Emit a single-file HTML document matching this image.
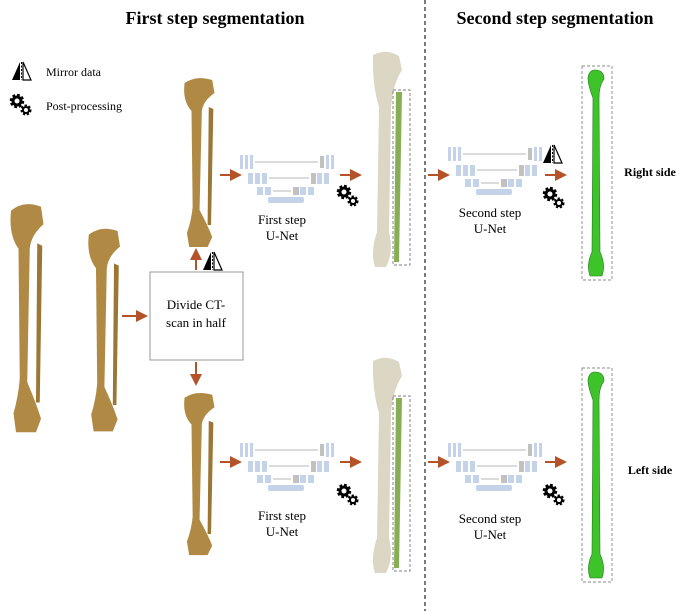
<!DOCTYPE html><html><head><style>body{margin:0;background:#fff}svg{display:block}</style></head><body>
<svg width="685" height="611" viewBox="0 0 685 611" xmlns="http://www.w3.org/2000/svg" font-family="Liberation Serif, serif">
<defs>
<marker id="ah" markerWidth="6" markerHeight="6" refX="5" refY="3" orient="auto"><path d="M0,0 L6,3 L0,6 z" fill="#b4532a"/></marker>
<g id="mir"><path d="M0,18 L8,0 L8,18 z" fill="#000"/><path d="M11,0 L19,18 L11,18 z" fill="none" stroke="#000" stroke-width="1.2"/><line x1="9.5" y1="0" x2="9.5" y2="18" stroke="#000" stroke-dasharray="2,1.5"/></g>
<g id="gear"><circle cx="7" cy="7" r="5.5" fill="none" stroke="#000" stroke-width="3.5" stroke-dasharray="2.5,1.8"/><circle cx="7" cy="7" r="4" fill="none" stroke="#000" stroke-width="3"/><circle cx="16" cy="16" r="4" fill="none" stroke="#000" stroke-width="3" stroke-dasharray="2,1.5"/><circle cx="16" cy="16" r="3" fill="none" stroke="#000" stroke-width="2"/></g>
<g id="unet" opacity="0.6"><g fill="#9fb6dd"><rect x="0" y="0" width="3" height="14"/><rect x="5" y="0" width="3" height="14"/><rect x="10" y="0" width="3" height="14"/><rect x="86" y="0" width="3" height="14"/><rect x="91" y="0" width="3" height="14"/><rect x="8" y="18" width="5" height="11"/><rect x="15" y="18" width="5" height="11"/><rect x="22" y="18" width="5" height="11"/><rect x="77" y="18" width="5" height="11"/><rect x="84" y="18" width="5" height="11"/><rect x="17" y="32" width="6" height="8"/><rect x="25" y="32" width="6" height="8"/><rect x="60" y="32" width="6" height="8"/><rect x="68" y="32" width="6" height="8"/><rect x="28" y="42" width="36" height="6" rx="2"/></g><g fill="#999"><rect x="80" y="1" width="4" height="12"/><rect x="71" y="18" width="5" height="11"/><rect x="53" y="32" width="6" height="8"/></g><g stroke="#888" stroke-width="1"><line x1="15" y1="7" x2="78" y2="7"/><line x1="29" y1="23" x2="69" y2="23"/><line x1="33" y1="36" x2="51" y2="36"/></g></g>
<g id="leg"><path d="M4,8 Q14,0 28,5 L30,18 Q20,26 19,36 L17,135 Q24,150 28,162 L24,172 L8,172 L6,158 Q10,145 11,132 L10,36 Q2,26 4,8z" fill="#b08a45"/><path d="M25,32 L29,34 L27,150 L24,150z" fill="#9b7634"/></g>
<g id="seg"><path d="M7,3 Q20,-4 33,4 L36,18 Q27,32 25,55 L23,180 Q28,200 20,215 L9,215 Q4,200 11,180 L13,55 Q6,32 7,3z" fill="#dcd7c4"/><path d="M30,40 L36,40 L33,210 L28,210z" fill="#6a9a2a" opacity="0.8"/><rect x="27" y="38" width="17" height="175" fill="none" stroke="#555" stroke-width="0.7" stroke-dasharray="3,2"/></g>
<g id="gb"><path d="M15,0 Q24,0 24,9 Q19,16 19,28 L20,182 Q26,195 22,206 L10,206 Q6,195 12,182 L13,28 Q8,15 8,8 Q9,0 15,0z" fill="#3ec32b" stroke="#1f7a15" stroke-width="0.6"/><rect x="2" y="-4" width="30" height="214" fill="none" stroke="#666" stroke-width="0.7" stroke-dasharray="3,2"/></g>
</defs>
<text x="215" y="24" font-size="18" font-weight="bold" text-anchor="middle">First step segmentation</text>
<text x="555" y="24" font-size="18" font-weight="bold" text-anchor="middle">Second step segmentation</text>
<line x1="425" y1="0" x2="425" y2="611" stroke="#222" stroke-width="1.2" stroke-dasharray="4,3"/>
<use href="#mir" x="12" y="62"/><text x="46" y="76" font-size="12">Mirror data</text>
<use href="#gear" x="10" y="94"/><text x="46" y="110" font-size="12">Post-processing</text>
<use href="#leg" transform="translate(6,200) scale(1.25,1.35)"/>
<use href="#leg" transform="translate(84,225) scale(1.2,1.2)"/>
<rect x="150" y="272" width="93" height="88" fill="#fff" stroke="#999"/>
<text x="196" y="309" font-size="13" text-anchor="middle">Divide CT-</text><text x="196" y="327" font-size="13" text-anchor="middle">scan in half</text>
<g stroke="#b4532a" stroke-width="2" marker-end="url(#ah)"><line x1="122" y1="316" x2="146" y2="316"/><line x1="196" y1="270" x2="196" y2="250"/><line x1="196" y1="362" x2="196" y2="384"/><line x1="220" y1="175" x2="240" y2="175"/><line x1="220" y1="462" x2="240" y2="462"/><line x1="340" y1="175" x2="360" y2="175"/><line x1="340" y1="462" x2="360" y2="462"/><line x1="428" y1="175" x2="448" y2="175"/><line x1="428" y1="462" x2="448" y2="462"/><line x1="545" y1="175" x2="565" y2="175"/><line x1="545" y1="462" x2="565" y2="462"/></g>
<use href="#mir" x="203" y="252"/>
<use href="#leg" transform="translate(180,75) scale(1.15,1)"/>
<use href="#leg" transform="translate(180,390) scale(1.15,0.96)"/>
<use href="#unet" x="240" y="155"/><use href="#unet" x="240" y="443"/>
<text x="282" y="224" font-size="13" text-anchor="middle">First step</text><text x="282" y="240" font-size="13" text-anchor="middle">U-Net</text>
<text x="282" y="520" font-size="13" text-anchor="middle">First step</text><text x="282" y="536" font-size="13" text-anchor="middle">U-Net</text>
<use href="#gear" x="337" y="185"/><use href="#gear" x="337" y="484"/>
<use href="#seg" x="366" y="52"/><use href="#seg" x="366" y="358"/>
<use href="#unet" x="448" y="147"/><use href="#unet" x="448" y="443"/>
<text x="490" y="217" font-size="13" text-anchor="middle">Second step</text><text x="490" y="233" font-size="13" text-anchor="middle">U-Net</text>
<text x="490" y="523" font-size="13" text-anchor="middle">Second step</text><text x="490" y="539" font-size="13" text-anchor="middle">U-Net</text>
<use href="#mir" x="543" y="145"/>
<use href="#gear" x="543" y="187"/><use href="#gear" x="543" y="484"/>
<use href="#gb" x="580" y="70"/><use href="#gb" x="580" y="372"/>
<text x="650" y="176" font-size="12" font-weight="bold" text-anchor="middle">Right side</text>
<text x="650" y="474" font-size="12" font-weight="bold" text-anchor="middle">Left side</text>
</svg></body></html>
